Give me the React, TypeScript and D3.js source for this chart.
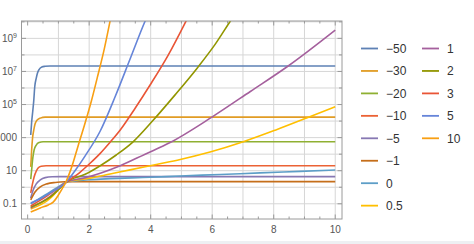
import React from "react";
import * as d3 from "d3";

type P = [number, number];

// Series (x, y)
const sM50: P[] = [[0.1,1445],[0.13,8710],[0.17,46800],[0.2,186000],[0.23,1.15e6],[0.28,3.98e6],[0.32,7.94e6],[0.37,1.29e7],[0.46,1.86e7],[0.57,2.04e7],[0.73,2.14e7],[10,2.14e7]];
const sM30: P[] = [[0.1,17],[0.13,178],[0.16,955],[0.2,2900],[0.24,6600],[0.31,11500],[0.41,15100],[0.57,17400],[10,17400]];
const sM20: P[] = [[0.1,3.1],[0.13,11],[0.16,45],[0.21,178],[0.28,355],[0.37,500],[0.5,562],[10,562]];
const sM10: P[] = [[0.1,0.45],[0.15,1.38],[0.21,4.2],[0.28,9.5],[0.34,14.5],[0.44,18.6],[0.6,20],[10,20]];
const sM5: P[] = [[0.1,0.22],[0.18,0.68],[0.28,1.6],[0.41,2.75],[0.57,3.8],[0.8,4.3],[1.06,4.4],[10,4.4]];
const sM1: P[] = [[0.1,0.17],[0.24,0.51],[0.41,1.05],[0.63,1.6],[0.9,1.95],[1.22,2.15],[1.71,2.2],[10,2.2]];
const s0: P[] = [[0.1,0.098],[0.57,0.34],[1.06,1.26],[1.25,2.0],[1.45,2.29],[2.03,2.88],[2.68,3.31],[3.98,3.98],[4.96,4.79],[6.26,5.89],[7.56,7.41],[8.86,9.12],[10,10.96]];
const s05: P[] = [[0.1,0.049],[0.73,0.209],[1.0,0.708],[1.25,2.0],[2.03,3.55],[2.68,6.31],[3.33,11.2],[4.18,24],[4.96,47.9],[5.93,135],[7.01,562],[8.05,2818],[9.09,15849],[10,74131]];
const s1: P[] = [[0.1,0.056],[0.73,0.282],[1.0,0.759],[1.25,2.0],[1.87,3.8],[2.36,7.08],[3.01,20],[3.82,100],[4.63,501],[5.99,17378],[7.24,6.17e5],[8.47,2.14e7],[10,3.16e9]];
const s2: P[] = [[0.1,0.0646],[0.73,0.251],[1.0,0.708],[1.25,2.0],[1.87,6.03],[2.36,20],[2.88,89],[3.4,501],[4.08,11220],[4.8,3.98e5],[5.51,1.58e7],[6.1,4.47e8],[6.59,1.12e10],[6.75,3.16e10]];
const s3: P[] = [[0.1,0.0741],[0.57,0.251],[0.99,0.891],[1.25,2.0],[1.71,8.32],[2.03,28.2],[2.36,112],[2.68,525],[3.01,2884],[3.5,61660],[3.98,1.51e6],[4.57,9.77e7],[5.15,1.12e10],[5.3,3.98e10]];
const s5: P[] = [[0.1,0.112],[0.41,0.2],[0.72,0.447],[1.0,0.891],[1.25,2.0],[1.54,10],[1.87,79.4],[2.36,2512],[2.85,3.16e5],[3.33,5.62e7],[3.82,1.12e10],[3.95,3.98e10]];
const s10: P[] = [[0.1,0.0316],[0.41,0.0562],[0.67,0.0851],[0.83,0.126],[0.99,0.316],[1.12,0.794],[1.25,2.2],[1.4,11.2],[1.64,316],[1.87,7943],[2.07,1.58e5],[2.26,3.98e6],[2.49,2.24e8],[2.68,1.12e10],[2.75,5.01e10]];

const seriesList = [sM50, sM30, sM20, sM10, sM5, sM1, s0, s05, s1, s2, s3, s5, s10];
const seriesLabels = ["\u221250", "\u221230", "\u221220", "\u221210", "\u22125", "\u22121", "0", "0.5", "1", "2", "3", "5", "10"];
const colors = ["#5E81B5", "#E19C24", "#8FB032", "#EB6235", "#8778B3", "#C56E1A", "#5D9EC7", "#FFBF00", "#A5609D", "#929600", "#E95536", "#6685D9", "#F89F13"];

const xTicks = [0, 2, 4, 6, 8, 10];
const yTickLabels = ["0.1", "10", "1000", "10^5", "10^7", "10^9"];
const yTickValues = [0.1, 10, 1000, 1e5, 1e7, 1e9];

const L = 21.5, R = 342, T = 21, B = 219;
const xScale = d3.scaleLinear().domain([-0.2, 10.22]).range([L, R]);
const yScale = d3.scaleLog().domain([Math.pow(10, -1.92), Math.pow(10, 10.05)]).range([B, T]);

export default function App() {
  const line = d3.line<P>().x(d => xScale(d[0])).y(d => yScale(d[1])).curve(d3.curveMonotoneX);
  const decades = d3.range(-1, 11).map(e => Math.pow(10, e)).filter(v => yScale(v) >= T - 0.5 && yScale(v) <= B);
  const xGrid = d3.range(1, 11);
  const xMinor = d3.range(0, 10.01, 0.5);
  const font = "'Liberation Sans', Arial, sans-serif";
  return (
    <svg width={474} height={244} style={{ position: "absolute", left: 0, top: 0, background: "#fff" }}>
      <defs>
        <clipPath id="plotclip"><rect x={L} y={T} width={R - L} height={B - T} /></clipPath>
      </defs>
      <rect x={0} y={241} width={474} height={3} fill="#eef0f3" />
      {/* grid */}
      <g stroke="#d6d6d6" strokeWidth={1}>
        {decades.map((v, i) => <line key={"gy" + i} x1={L} x2={R} y1={yScale(v)} y2={yScale(v)} />)}
        {xGrid.map((v, i) => <line key={"gx" + i} x1={xScale(v)} x2={xScale(v)} y1={T} y2={B} />)}
      </g>
      {/* curves */}
      <g clipPath="url(#plotclip)" fill="none" strokeWidth={1.6} strokeLinejoin="round">
        {seriesList.map((s, i) => <path key={"s" + i} d={line(s) || ""} stroke={colors[i]} />)}
      </g>
      {/* frame */}
      <rect x={L} y={T} width={R - L} height={B - T} fill="none" stroke="#9a9a9a" strokeWidth={1} />
      <g stroke="#9a9a9a" strokeWidth={1}>
        {xMinor.map((v, i) => {
          const len = v % 2 === 0 ? 4.5 : 2.5;
          const x = xScale(v);
          return (
            <g key={"xt" + i}>
              <line x1={x} x2={x} y1={B} y2={B - len} />
              <line x1={x} x2={x} y1={T} y2={T + len} />
            </g>
          );
        })}
        {decades.map((v, i) => {
          const e = Math.round(Math.log10(v));
          const len = Math.abs(e) % 2 === 1 ? 4.5 : 3;
          const y = yScale(v);
          return (
            <g key={"yt" + i}>
              <line x1={L} x2={L + len} y1={y} y2={y} />
              <line x1={R} x2={R - len} y1={y} y2={y} />
            </g>
          );
        })}
      </g>
      {/* tick labels */}
      <g fontFamily={font} fontSize={10} fill="#555">
        {xTicks.map((v, i) => (
          <text key={"xl" + i} x={xScale(v)} y={233} textAnchor="middle">{v}</text>
        ))}
        {yTickLabels.map((lab, i) => {
          const y = yScale(yTickValues[i]) + 3.6;
          if (lab.includes("^")) {
            const [b, e] = lab.split("^");
            return (
              <text key={"yl" + i} x={17} y={y} textAnchor="end">
                {b}<tspan fontSize={7} dy={-4}>{e}</tspan>
              </text>
            );
          }
          return <text key={"yl" + i} x={17} y={y} textAnchor="end">{lab}</text>;
        })}
      </g>
      {/* legend */}
      <g fontFamily={font} fontSize={12} fill="#333">
        {seriesLabels.map((lab, i) => {
          const col = i < 8 ? 0 : 1;
          const row = i < 8 ? i : i - 8;
          const y = 48.5 + row * 22.45;
          const x0 = col === 0 ? 361 : 422;
          const tx = col === 0 ? 386 : 447;
          return (
            <g key={"lg" + i}>
              <line x1={x0} x2={x0 + 17} y1={y} y2={y} stroke={colors[i]} strokeWidth={1.8} />
              <text x={tx} y={y + 4.3}>{lab}</text>
            </g>
          );
        })}
      </g>
    </svg>
  );
}
